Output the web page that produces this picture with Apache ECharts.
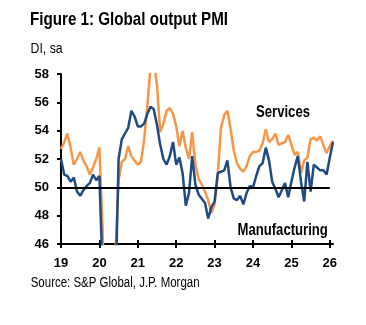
<!DOCTYPE html>
<html><head><meta charset="utf-8">
<script src="https://cdn.jsdelivr.net/npm/echarts@6/dist/echarts.min.js"></script>
<style>html,body{margin:0;padding:0;background:#fff}#c{width:366px;height:325px}</style>
</head><body><div id="c"></div><script>
// Tick labels (January of each year)
const yearLabels = ['19','20','21','22','23','24','25','26'];
// Monthly categories Jan 2019 .. Feb 2026
const monthNames = ['Jan','Feb','Mar','Apr','May','Jun','Jul','Aug','Sep','Oct','Nov','Dec'];
const months = [];
yearLabels.forEach(y => monthNames.forEach(m => months.push(m + ' ' + y)));
months.length = 86;

const services = [
 52.7,53.2,53.8,52.8,51.6,52.0,52.5,51.9,51.5,50.9,51.4,52.0,
 52.8,47.0,38.0,26.0,35.0,45.3,50.5,51.8,52.0,52.9,52.2,51.9,
 51.6,51.8,53.4,55.8,58.6,59.0,57.2,53.9,54.5,55.4,55.6,55.2,
 54.3,52.9,54.0,52.8,52.0,53.9,51.6,50.6,50.2,49.7,49.1,48.2,
 48.8,51.0,54.2,55.1,55.4,54.1,52.6,51.7,51.3,51.1,51.5,52.2,
 52.5,52.5,52.6,53.1,54.1,53.2,53.4,53.8,53.0,53.1,53.2,53.7,
 53.0,52.3,52.5,51.0,51.9,52.1,53.4,53.5,53.3,53.6,53.0,52.4,
 52.9,53.3
];
const manufacturing = [
 52.0,50.9,50.8,50.4,50.7,49.7,49.4,49.8,50.1,50.3,50.9,50.5,
 50.8,44.0,40.0,32.0,38.0,42.2,52.0,53.4,53.8,54.2,55.4,55.0,
 54.3,54.3,54.5,55.2,55.7,55.5,54.4,53.0,52.0,51.6,52.2,53.2,
 51.6,52.1,51.0,48.7,49.6,52.2,50.2,49.5,49.2,48.9,47.8,48.6,
 49.0,51.0,51.1,51.2,51.9,50.0,49.2,49.1,49.4,48.8,49.6,50.1,
 50.0,50.8,51.5,51.7,52.8,51.9,50.4,49.9,49.3,49.8,50.3,49.3,
 50.4,51.4,52.2,50.4,49.0,51.8,49.7,51.6,51.4,51.2,51.2,50.9,
 52.1,53.2
];

function hasFont(name){
  const c = document.createElement('canvas').getContext('2d');
  const t = 'Figure 1: Global output PMI 0123456789';
  c.font = '20px monospace'; const a = c.measureText(t).width;
  c.font = '20px "' + name + '", monospace'; const b = c.measureText(t).width;
  return Math.abs(a - b) > 0.5;
}
const narrow = hasFont('Liberation Sans Narrow');
const FAM = narrow ? '"Liberation Sans Narrow", "Liberation Sans", Arial, sans-serif' : '"Liberation Sans", Arial, sans-serif';
const SX = narrow ? 1 : 0.82;
const AX = narrow ? 15.5 : 13;

const chart = echarts.init(document.getElementById('c'), null, {renderer:'canvas'});
const tickInt = (i) => i % 12 === 0;

function txt(x, y, s, size, bold){
  return {type:'text', x:x, y:y, scaleX:SX, silent:true,
    style:{text:s, fill:'#000', font:(bold?'bold ':'') + size + 'px ' + FAM, align:'left', verticalAlign:'middle'}};
}

chart.setOption({
  animation:false,
  backgroundColor:'#fff',
  grid:{left:61, right:33, top:74, bottom:81},
  xAxis:[{
    type:'category', data:months, boundaryGap:false,
    axisLine:{lineStyle:{color:'#000', width:2}},
    axisTick:{interval:tickInt, length:4, lineStyle:{color:'#000', width:2}},
    axisLabel:{interval:tickInt, margin:13, color:'#000', fontWeight:'bold', fontSize:AX, fontFamily:FAM,
      formatter:(v, i) => yearLabels[Math.round(i/12)]},
    splitLine:{show:false}
  },{
    type:'category', data:months, boundaryGap:false, position:'bottom',
    axisLine:{show:false},
    axisTick:{interval:tickInt, inside:true, length:4, lineStyle:{color:'#000', width:2}},
    axisLabel:{show:false}, splitLine:{show:false}
  }],
  yAxis:{
    type:'value', min:46, max:58, interval:2,
    axisLine:{show:true, lineStyle:{color:'#000', width:2}},
    axisTick:{show:true, length:4, lineStyle:{color:'#000', width:2}},
    axisLabel:{margin:12, color:'#000', fontWeight:'bold', fontSize:AX, fontFamily:FAM},
    splitLine:{show:false}
  },
  series:[{
    name:'Services', type:'line', data:services, showSymbol:false, clip:true,
    lineStyle:{color:'#f79646', width:2.5}, z:2,
    markLine:{silent:true, symbol:'none', label:{show:false},
      lineStyle:{color:'#000', width:2, type:'solid'},
      data:[[{coord:[0,50]},{coord:[84,50]}]]}
  },{
    name:'Manufacturing', type:'line', data:manufacturing, showSymbol:false, clip:true,
    lineStyle:{color:'#1f4a84', width:2.5}, z:3
  }],
  graphic:[
    txt(30, 19.5, 'Figure 1: Global output PMI', 18.5, true),
    txt(30.5, 48.7, 'DI, sa', 15, false),
    txt(256, 112.3, 'Services', 16, true),
    txt(237.5, 231, 'Manufacturing', 16, true),
    txt(30.7, 283.3, 'Source: S&P Global, J.P. Morgan', 14, false)
  ]
});
</script></body></html>
